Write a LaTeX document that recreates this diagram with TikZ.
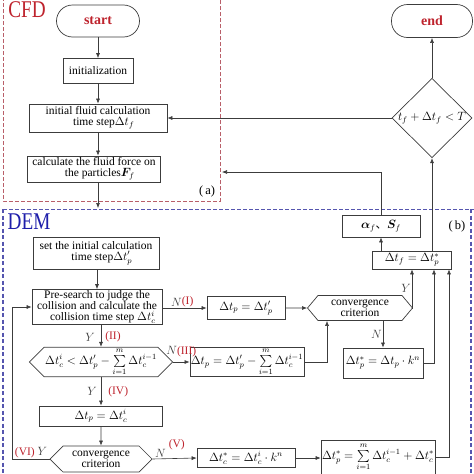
\documentclass[tikz,border=0pt]{standalone}
\usepackage{amsmath,bm}
\usepackage{fontspec}
\setmainfont{Liberation Serif}
\newfontfamily\cjkfont{Noto Sans CJK SC}
\usetikzlibrary{positioning,arrows.meta,calc,shapes.geometric,shapes.symbols}
\definecolor{fcGray}{RGB}{60,60,60}
\definecolor{fcRed}{RGB}{190,35,45}
\definecolor{fcPink}{RGB}{185,95,105}
\definecolor{fcBlue}{RGB}{85,85,175}
\definecolor{fcNavy}{RGB}{30,30,170}
\newcommand{\sumi}{\sum\limits_{i=1}^{m}}
\tikzset{
    base/.style={font=\fontsize{11.5}{11}\selectfont, align=center},
    proc/.style={base, rectangle, draw=fcGray, line width=0.7pt, inner sep=1pt},
    term/.style={base, rectangle, rounded corners=16pt, draw=fcGray, line width=0.7pt,
                 font=\fontsize{14}{14}\selectfont\bfseries, text=fcRed},
    decide/.style={base, diamond, draw=fcGray, line width=0.7pt, inner sep=0pt},
    hexa/.style={base, signal, signal to=west and east, signal pointer angle=90,
                 draw=fcGray, line width=0.7pt, inner sep=1pt},
    flow/.style={-{Latex[length=5pt,width=4pt]}, line width=0.6pt, color=fcGray},
    tag/.style={font=\fontsize{11.5}{11.5}\selectfont, text=fcRed, inner sep=1pt},
    yn/.style={font=\fontsize{11.5}{11.5}\selectfont, inner sep=1pt},
    title/.style={font=\fontsize{24}{24}\selectfont, inner sep=0pt}
}

\begin{document}
\begin{tikzpicture}[x=1pt, y=-1pt]
  \useasboundingbox (0,0) rectangle (474,474);

  % CFD frame
  \draw[fcPink, line width=0.8pt, dash pattern=on 4pt off 2pt] (3,-3) -- (3,201) -- (220,201) -- (220,-3);
  \node[title, text=fcRed] (cfd) at (27,10) {\scalebox{0.8}[1]{CFD}};
  \node[base, font=\fontsize{12.5}{12.5}\selectfont] (tagA) at (207,191) {(\,a)};

  % DEM frame
  \draw[fcBlue, line width=0.8pt, dash pattern=on 4pt off 2pt] (3,209) -- (474,209);
  \draw[fcBlue, line width=2.5pt, dash pattern=on 4pt off 2.5pt] (3,209) -- (3,480);
  \draw[fcBlue, line width=2.5pt, dash pattern=on 4pt off 2.5pt] (471,209) -- (471,480);
  \node[title, text=fcNavy] (dem) at (29,222) {\scalebox{0.8}[1]{DEM}};
  \node[base, font=\fontsize{12.5}{12.5}\selectfont] (tagB) at (457,226) {(\,b)};

  % CFD column
  \node[term, minimum width=83pt, minimum height=32pt] (start) at (98,21) {start};
  \node[proc, minimum width=70pt, minimum height=25pt] (init) at (98,71) {initialization};
  \node[proc, minimum width=138pt, minimum height=28pt] (fluid) at (98,118)
    {initial fluid calculation\\ \quad time step$\Delta t_f$};
  \node[proc, minimum width=133pt, minimum height=26pt] (force) at (94,169)
    {calculate the fluid force on\\ \quad the particles$\bm{F}_f$};
  \coordinate (demin) at (98,208);

  % end and time check
  \node[term, minimum width=81pt, minimum height=33pt] (end) at (432,21) {end};
  \node[decide, minimum width=80pt, minimum height=48pt] (cond) at (432,118) {$t_f+\Delta t_f<T$};
  \coordinate (cfdin) at (222,172);

  % DEM left column
  \node[proc, minimum width=126pt, minimum height=32pt] (setinit) at (96,253)
    {set the initial calculation\\ \quad time step$\Delta t'_p$};
  \node[proc, minimum width=130pt, minimum height=34pt] (presearch) at (97,307)
    {Pre-search to judge the\\ collision and calculate the\\ \quad collision time step $\Delta t^i_c$};
  \node[hexa, minimum width=118pt, minimum height=26pt] (hexc) at (101,362)
    {$\Delta t^i_c<\Delta t'_p-\sumi\Delta t^{i-1}_c$};
  \node[proc, minimum width=123pt, minimum height=20pt] (dtpc) at (101,416) {$\Delta t_p=\Delta t^i_c$};
  \node[hexa, minimum width=102pt, minimum height=26pt] (convb) at (101,459) {convergence\\ criterion};

  % DEM right part
  \node[proc, minimum width=78pt, minimum height=23pt] (dtpa) at (246,308) {$\Delta t_p=\Delta t'_p$};
  \node[hexa, minimum width=105pt, minimum height=25pt, signal pointer angle=100] (conva) at (360,308)
    {convergence\\ criterion};
  \node[proc, minimum width=79pt, minimum height=18pt] (dtf) at (412,260) {$\Delta t_f=\Delta t^*_p$};
  \node[proc, minimum width=78pt, minimum height=22pt] (alpha) at (381,226)
    {$\bm{\alpha}_f${\cjkfont 、}$\bm{S}_f$};
  \node[proc, minimum width=80pt, minimum height=30pt] (star) at (383,363) {$\Delta t^*_p=\Delta t_p\cdot k^n$};
  \node[proc, minimum width=100pt, minimum height=27pt] (dtpb) at (247,362)
    {$\Delta t_p=\Delta t'_p-\sumi\Delta t^{i-1}_c$};
  \node[proc, minimum width=98pt, minimum height=19pt] (dtc) at (246,458) {$\Delta t^*_c=\Delta t^i_c\cdot k^n$};
  \node[proc, minimum width=101pt, minimum height=34pt] (sum) at (378,457)
    {$\Delta t^*_p=\sumi\Delta t^{i-1}_c+\Delta t^*_c$};

  % CFD flow
  \draw[flow] (start) -- (init);
  \draw[flow] (init) -- (fluid);
  \draw[flow] (fluid.south) -- (fluid.south |- force.north);
  \draw[flow] (force.south -| fluid.south) -- (demin);
  \draw[flow] (cond) -- (end);
  \draw[flow] (cond.west) -- (fluid.east);
  \draw[flow] (alpha.north) |- (cfdin);

  % DEM flow
  \draw[flow] (setinit.south -| presearch.south) -- (presearch.north);
  \draw[flow] (presearch.east |- dtpa.west) -- (dtpa.west)
    node[yn, pos=0.45, above] {$N$\textcolor{fcRed}{\raisebox{2pt}{(I)}}};
  \draw[flow] (dtpa) -- (conva);
  \draw[flow] (conva.east) -| (dtf.south) node[yn, pos=0.75, left] {$Y$};
  \draw[flow] (star.north |- conva.south) -- (star.north) node[yn, midway, left] {$N$};
  \draw[flow] (star.east) -| ([xshift=22pt]dtf.south);
  \draw[flow] (alpha.south |- dtf.north) -- (alpha.south);
  \draw[flow] (cond.south |- dtf.north) -- (cond.south);
  \draw[flow] (presearch.south -| hexc.north) -- (hexc.north)
    node[yn, pos=0.55, left=5pt] {$Y$} node[tag, pos=0.55, right=3pt] {(II)};
  \draw[flow] (hexc.east) -- (dtpb.west)
    node[yn, pos=0.5, above=4pt] {$N$\textcolor{fcRed}{(III)}};
  \draw[flow] (dtpb.east) -| ([xshift=-33pt]conva.south);
  \draw[flow] (hexc.south) -- (dtpc.north)
    node[yn, midway, left=3pt] {$Y$} node[tag, midway, right=6pt] {(IV)};
  \draw[flow] (dtpc) -- (convb);
  \draw[flow] (convb.east) -- (dtc.west)
    node[yn, pos=0.18, above] {$N$} node[tag, pos=0.55, above=7pt] {(V)};
  \draw[flow] (dtc) -- (sum.west |- dtc);
  \draw[flow] (sum.east) -| ([xshift=37pt]dtf.south);
  \draw[flow] (convb.west) -- ++(-37,0) node[yn, midway, above] {\textcolor{fcRed}{(VI)}\ $Y$}
    |- (presearch.west);
\end{tikzpicture}
\end{document}
